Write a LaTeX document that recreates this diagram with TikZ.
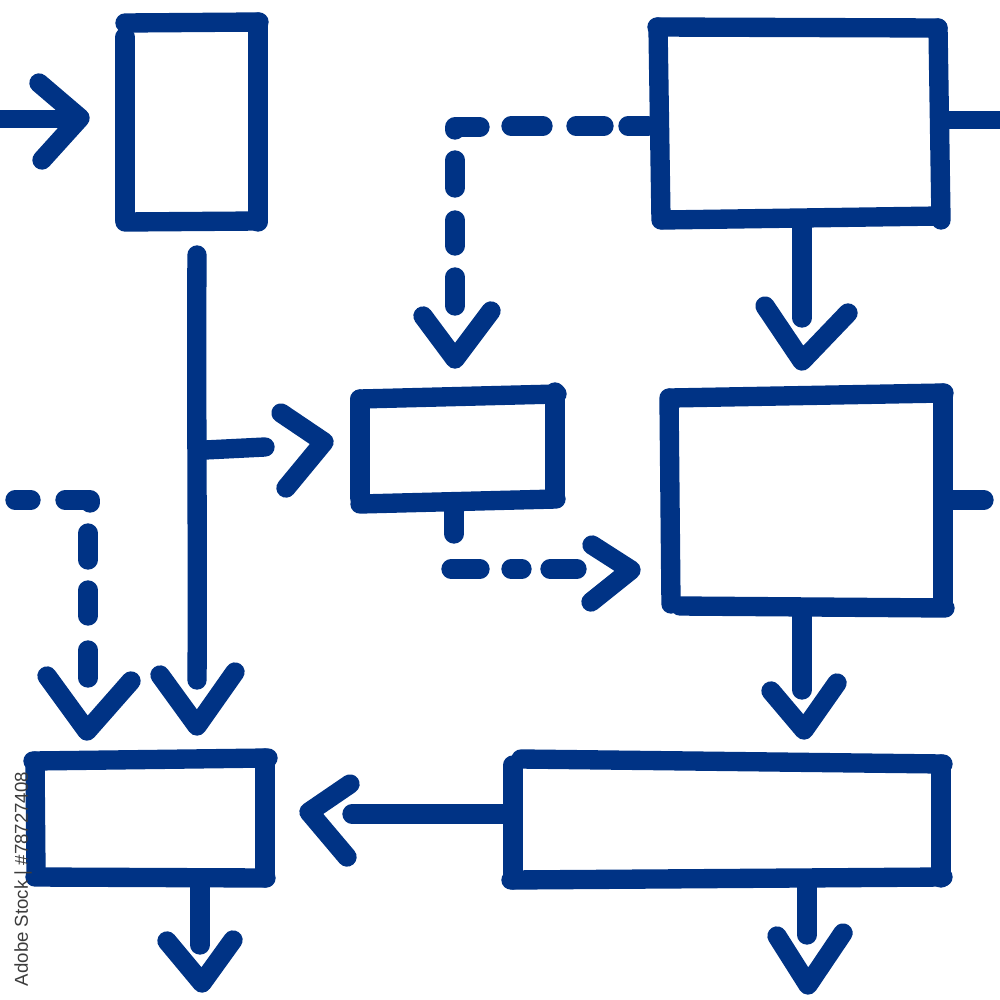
\documentclass[tikz,border=0pt]{standalone}
\usepackage{fontspec}
\setmainfont{Liberation Sans}
\usetikzlibrary{calc}
\definecolor{inkblue}{RGB}{0,51,133}
\definecolor{stockgrey}{RGB}{60,60,60}
\tikzset{
  stroke/.style={draw=inkblue,line width=5.5pt,line cap=round,line join=round},
  thinstroke/.style={draw=inkblue,line width=4.9pt,line cap=round,line join=round},
  boxspot/.style={inner sep=0pt,outer sep=0pt,draw=none},
  stocklabel/.style={rotate=90,text=stockgrey,font=\fontsize{5.3pt}{6pt}\selectfont,inner sep=0pt}
}
\newcommand{\handbox}[8]{%
  \draw[stroke] #1 -- #2;
  \draw[stroke] #3 -- #4;
  \draw[stroke] #5 -- #6;
  \draw[stroke] #7 -- #8;
}
\begin{document}
\begin{tikzpicture}[x=0.01cm,y=-0.01cm]
\useasboundingbox (0,0) rectangle (1000,1000);
% box anchors
\node[boxspot,minimum width=1.35cm,minimum height=2cm] (tall) at (192,122) {};
\node[boxspot,minimum width=2.82cm,minimum height=2.03cm] (topright) at (800,124) {};
\node[boxspot,minimum width=1.96cm,minimum height=1.06cm] (middle) at (457,449) {};
\node[boxspot,minimum width=2.74cm,minimum height=2.22cm] (midright) at (807,500) {};
\node[boxspot,minimum width=4.30cm,minimum height=1.28cm] (wide) at (727,821) {};
\node[boxspot,minimum width=2.32cm,minimum height=1.36cm] (lowleft) at (150,817) {};
% hand-drawn boxes
\handbox{(125,23)}{(259,22)}{(125,37)}{(125,220)}{(258,22)}{(258,222)}{(125,222)}{(258,221)}
\handbox{(657,27)}{(938,28)}{(658,27)}{(661,220)}{(938,28)}{(941,220)}{(663,220)}{(940,216)}
\handbox{(360,399)}{(557,394)}{(360,399)}{(360,498)}{(555,392)}{(555,498)}{(360,504)}{(556,499)}
\handbox{(670,398)}{(944,393)}{(669,398)}{(671,604)}{(943,393)}{(943,606)}{(680,606)}{(945,608)}
\handbox{(521,759)}{(943,764)}{(513,765)}{(513,880)}{(941,764)}{(941,878)}{(511,880)}{(943,877)}
\handbox{(33,761)}{(268,758)}{(35,761)}{(36,872)}{(265,758)}{(265,878)}{(35,877)}{(266,878)}
% free ends
\coordinate (inA) at (0,119);
\coordinate (inB) at (75,119);
\coordinate (outA) at (1000,120);
\coordinate (p1) at (197,680);
\coordinate (p2) at (802,318);
\coordinate (p3) at (802,690);
\coordinate (p4) at (352,814);
\coordinate (p5) at (200,945);
\coordinate (p6) at (807,935);
\coordinate (p7) at (265,447);
\coordinate (p8) at (205,450);
\coordinate (p9) at (197,255);
% solid connectors
\draw[thinstroke] (inA) -- (inB);
\draw[thinstroke] (945,120) -- (outA);
\draw[stroke] (topright.south -| p2) -- (p2);
\draw[stroke] (midright.south -| p3) -- (p3);
\draw[stroke] (p9) .. controls (196,400) and (198,550) .. (p1);
\draw[stroke] (p8) -- (p7);
\draw[stroke] (wide.west |- p4) -- (p4);
\draw[stroke] (lowleft.south -| p5) -- (p5);
\draw[stroke] (wide.south -| p6) -- (p6);
\draw[stroke] (950,500) -- (984,500);
\draw[stroke] (454,510) -- (454,534);
% dashed top
\draw[stroke] (628,126) -- (648,126);
\draw[stroke] (576,126) -- (604,126);
\draw[stroke] (511,126) -- (543,126);
\draw[stroke] (480,127) -- (455,127) -- (455,130);
\draw[stroke] (455,160) -- (455,188);
\draw[stroke] (455,220) -- (455,246);
\draw[stroke] (455,277) -- (455,306);
% dashed left
\draw[stroke] (15,500) -- (31,500);
\draw[stroke] (65,500) -- (90,500) -- (90,503);
\draw[stroke] (88,533) -- (88,560);
\draw[stroke] (88,590) -- (88,616);
\draw[stroke] (88,650) -- (88,678);
% dashed middle
\draw[stroke] (451,569) -- (480,569);
\draw[stroke] (511,569) -- (522,569);
\draw[stroke] (550,569) -- (577,569);
% arrowheads
\draw[stroke] (39,83) -- (80,118) -- (42,160);
\draw[stroke] (423,316) -- (455,359) -- (491,311);
\draw[stroke] (765,306) -- (802,361) -- (848,313);
\draw[stroke] (281,413) -- (324,442) -- (286,488);
\draw[stroke] (160,675) -- (197,726) -- (235,672);
\draw[stroke] (47,676) -- (87,731) -- (131,681);
\draw[stroke] (592,545) -- (631,570) -- (591,602);
\draw[stroke] (771,691) -- (804,730) -- (837,683);
\draw[stroke] (350,784) -- (309,812) -- (347,857);
\draw[stroke] (167,941) -- (202,983) -- (233,940);
\draw[stroke] (777,936) -- (808,985) -- (843,933);
% stock label
\node[stocklabel] (stock) at (23,879) {Adobe Stock | \#78727408};
\end{tikzpicture}
\end{document}
